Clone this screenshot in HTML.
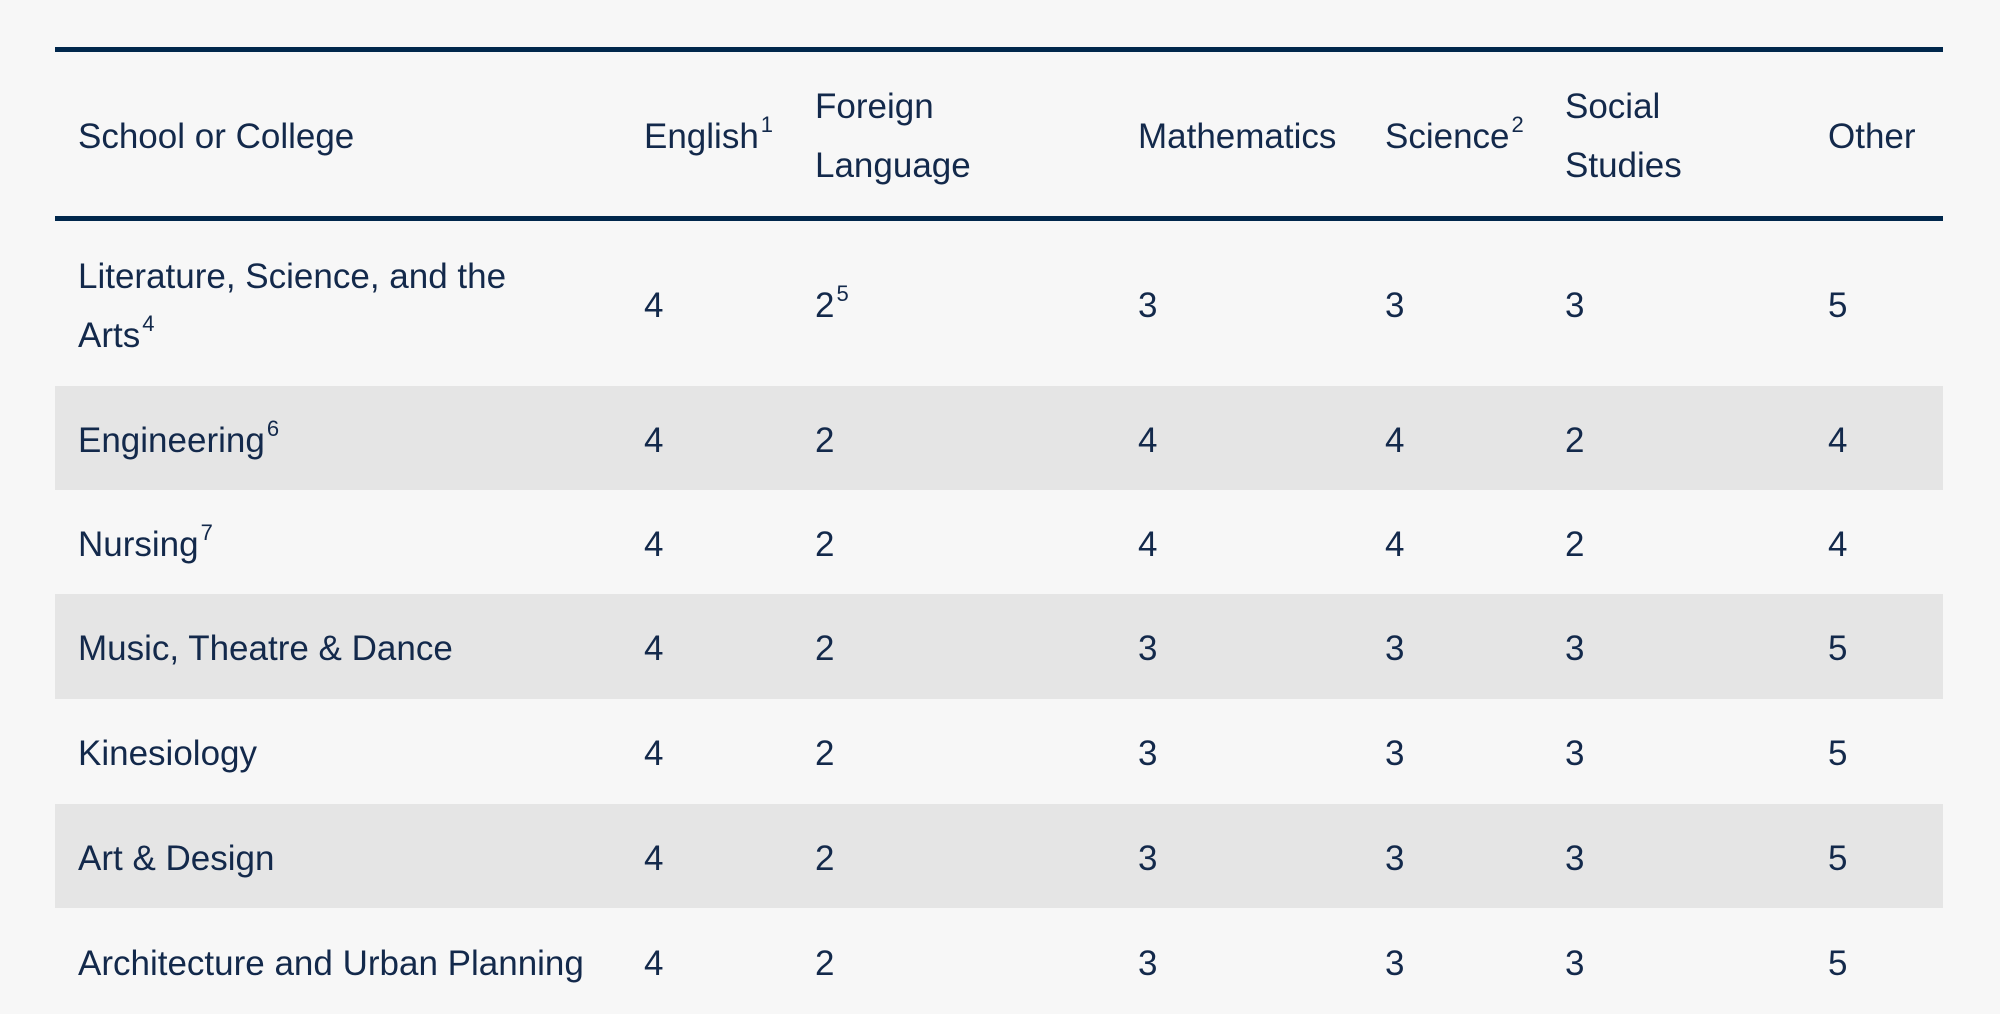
<!DOCTYPE html>
<html><head><meta charset="utf-8"><style>
*{margin:0;padding:0;box-sizing:border-box}
body{width:2000px;height:1014px;background:#f7f7f7;position:relative;overflow:hidden;font-family:"Liberation Sans",sans-serif;color:#13294b;font-size:35px}
.line{position:absolute;left:55px;width:1888px;height:5px;background:#00274c}
.row{position:absolute;left:55px;width:1888px}
.g{background:#e5e5e5}
.c{position:absolute;top:0;height:100%;display:flex;align-items:center;line-height:59px;padding-top:4px;white-space:nowrap}
sup{font-size:22px;position:relative;top:-16px;vertical-align:baseline;line-height:0;margin-left:2px}
</style></head><body>
<div class="line" style="top:47px"></div>
<div class="line" style="top:216px"></div>
<div class="row" style="top:52px;height:164px">
<div class="c" style="left:23px"><span>School or College</span></div>
<div class="c" style="left:589px"><span>English<sup>1</sup></span></div>
<div class="c" style="left:760px"><span>Foreign<br>Language</span></div>
<div class="c" style="left:1083px"><span>Mathematics</span></div>
<div class="c" style="left:1330px"><span>Science<sup>2</sup></span></div>
<div class="c" style="left:1510px"><span>Social<br>Studies</span></div>
<div class="c" style="left:1773px"><span>Other</span></div>
</div>
<div class="row" style="top:221px;height:165px">
<div class="c" style="left:23px"><span>Literature, Science, and the<br>Arts<sup>4</sup></span></div>
<div class="c" style="left:589px"><span>4</span></div><div class="c" style="left:760px"><span>2<sup>5</sup></span></div><div class="c" style="left:1083px"><span>3</span></div><div class="c" style="left:1330px"><span>3</span></div><div class="c" style="left:1510px"><span>3</span></div><div class="c" style="left:1773px"><span>5</span></div>
</div>
<div class="row g" style="top:386px;height:104px">
<div class="c" style="left:23px"><span>Engineering<sup>6</sup></span></div>
<div class="c" style="left:589px"><span>4</span></div><div class="c" style="left:760px"><span>2</span></div><div class="c" style="left:1083px"><span>4</span></div><div class="c" style="left:1330px"><span>4</span></div><div class="c" style="left:1510px"><span>2</span></div><div class="c" style="left:1773px"><span>4</span></div>
</div>
<div class="row" style="top:490px;height:104px">
<div class="c" style="left:23px"><span>Nursing<sup>7</sup></span></div>
<div class="c" style="left:589px"><span>4</span></div><div class="c" style="left:760px"><span>2</span></div><div class="c" style="left:1083px"><span>4</span></div><div class="c" style="left:1330px"><span>4</span></div><div class="c" style="left:1510px"><span>2</span></div><div class="c" style="left:1773px"><span>4</span></div>
</div>
<div class="row g" style="top:594px;height:105px">
<div class="c" style="left:23px"><span>Music, Theatre &amp; Dance</span></div>
<div class="c" style="left:589px"><span>4</span></div><div class="c" style="left:760px"><span>2</span></div><div class="c" style="left:1083px"><span>3</span></div><div class="c" style="left:1330px"><span>3</span></div><div class="c" style="left:1510px"><span>3</span></div><div class="c" style="left:1773px"><span>5</span></div>
</div>
<div class="row" style="top:699px;height:105px">
<div class="c" style="left:23px"><span>Kinesiology</span></div>
<div class="c" style="left:589px"><span>4</span></div><div class="c" style="left:760px"><span>2</span></div><div class="c" style="left:1083px"><span>3</span></div><div class="c" style="left:1330px"><span>3</span></div><div class="c" style="left:1510px"><span>3</span></div><div class="c" style="left:1773px"><span>5</span></div>
</div>
<div class="row g" style="top:804px;height:104px">
<div class="c" style="left:23px"><span>Art &amp; Design</span></div>
<div class="c" style="left:589px"><span>4</span></div><div class="c" style="left:760px"><span>2</span></div><div class="c" style="left:1083px"><span>3</span></div><div class="c" style="left:1330px"><span>3</span></div><div class="c" style="left:1510px"><span>3</span></div><div class="c" style="left:1773px"><span>5</span></div>
</div>
<div class="row" style="top:908px;height:106px">
<div class="c" style="left:23px"><span>Architecture and Urban Planning</span></div>
<div class="c" style="left:589px"><span>4</span></div><div class="c" style="left:760px"><span>2</span></div><div class="c" style="left:1083px"><span>3</span></div><div class="c" style="left:1330px"><span>3</span></div><div class="c" style="left:1510px"><span>3</span></div><div class="c" style="left:1773px"><span>5</span></div>
</div>
</body></html>
